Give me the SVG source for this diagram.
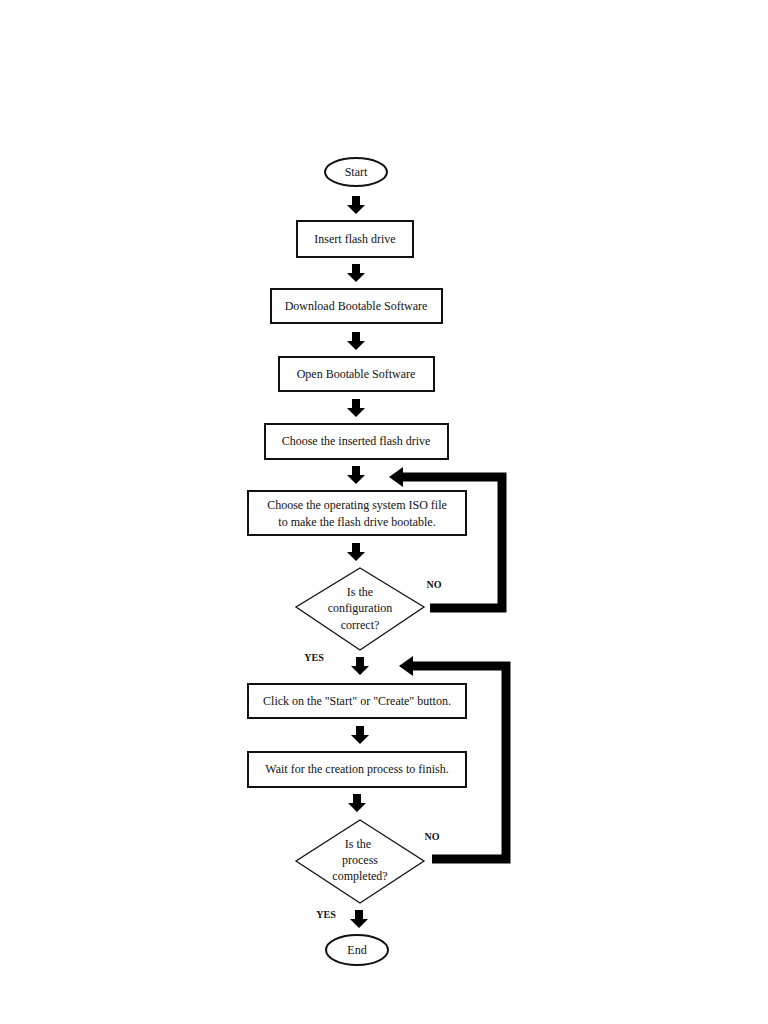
<svg xmlns="http://www.w3.org/2000/svg" xmlns:xlink="http://www.w3.org/1999/xlink" width="768" height="1024" viewBox="0 0 768 1024">
<style>
.n{fill:#fff;stroke:#111;stroke-width:2}
.d{fill:#fff;stroke:#111;stroke-width:1.3}
.t{font-family:"Liberation Serif",serif;font-size:12px;fill:#111;text-anchor:middle}
.b{font-family:"Liberation Serif",serif;font-size:10px;font-weight:bold;fill:#111;text-anchor:middle}
.k{fill:#000}
.w{fill:none;stroke:#000;stroke-width:9}
</style>
<defs>
<path id="da" d="M-4,0 H4 V9 H9 L0,18 L-9,9 H-4 Z"/>
</defs>
<rect width="768" height="1024" fill="#fff"/>
<g id="connectors" class="k">
<use xlink:href="#da" x="356" y="196"/>
<use xlink:href="#da" x="356" y="264"/>
<use xlink:href="#da" x="356" y="332"/>
<use xlink:href="#da" x="356" y="399"/>
<use xlink:href="#da" x="356" y="466"/>
<use xlink:href="#da" x="356" y="543"/>
<use xlink:href="#da" x="360" y="657"/>
<use xlink:href="#da" x="360" y="726"/>
<use xlink:href="#da" x="357" y="794"/>
<use xlink:href="#da" x="359" y="910"/>
<path class="w" d="M430,608 H502 V477 H400"/>
<path d="M389,477 L403,467 V487 Z"/>
<path class="w" d="M432,859 H506 V666 H410"/>
<path d="M399,666 L413,656 V676 Z"/>
</g>
<g id="start"><ellipse class="n" cx="356" cy="172" rx="31" ry="14"/><text class="t" x="356" y="176">Start</text></g>
<g id="insert"><rect class="n" x="297" y="221" width="116" height="36"/><text class="t" x="355" y="243">Insert flash drive</text></g>
<g id="download"><rect class="n" x="271" y="289" width="171" height="34"/><text class="t" x="356" y="310">Download Bootable Software</text></g>
<g id="open"><rect class="n" x="279" y="357" width="155" height="34"/><text class="t" x="356" y="378">Open Bootable Software</text></g>
<g id="choose"><rect class="n" x="265" y="424" width="183" height="35"/><text class="t" x="356" y="445">Choose the inserted flash drive</text></g>
<g id="iso"><rect class="n" x="248" y="491" width="218" height="44"/><text class="t" x="357" y="509">Choose the operating system ISO file</text><text class="t" x="357" y="526">to make the flash drive bootable.</text></g>
<g id="config"><polygon class="d" points="360,568 424,607 360,650 296,607"/><text class="t" x="360" y="596">Is the</text><text class="t" x="360" y="612">configuration</text><text class="t" x="360" y="629">correct?</text></g>
<text class="b" x="434" y="588">NO</text>
<text class="b" x="314" y="661">YES</text>
<g id="click"><rect class="n" x="248" y="684" width="218" height="34"/><text class="t" x="357" y="705">Click on the "Start" or "Create" button.</text></g>
<g id="wait"><rect class="n" x="248" y="752" width="218" height="35"/><text class="t" x="357" y="773">Wait for the creation process to finish.</text></g>
<g id="done"><polygon class="d" points="360,820 424,861 360,903 296,861"/><text class="t" x="358" y="848">Is the</text><text class="t" x="360" y="864">process</text><text class="t" x="360" y="880">completed?</text></g>
<text class="b" x="432" y="840">NO</text>
<text class="b" x="326" y="918">YES</text>
<g id="end"><ellipse class="n" cx="357" cy="950" rx="31" ry="15"/><text class="t" x="357" y="954">End</text></g>
</svg>
